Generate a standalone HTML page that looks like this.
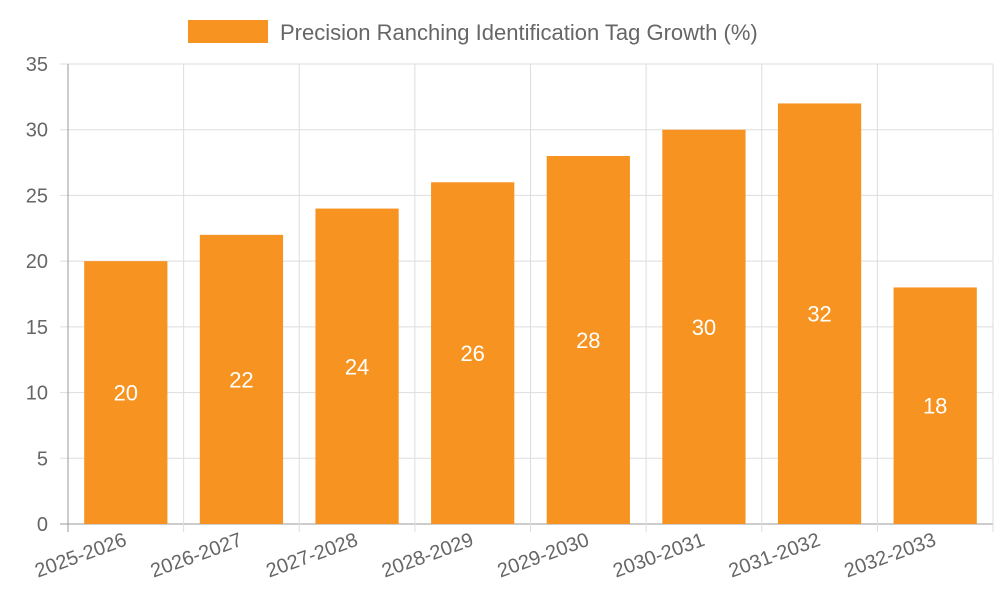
<!DOCTYPE html>
<html><head><meta charset="utf-8"><style>
body{margin:0;background:#fff;}
svg text{font-family:"Liberation Sans",sans-serif;}
</style></head><body>
<svg id="chart" width="1000" height="600">
<g id="legend">
<rect x="188" y="20" width="80" height="23" fill="#f79421"></rect>
<text x="280" y="40" font-size="22" fill="#666">Precision Ranching Identification Tag Growth (%)</text>
</g>
<g id="grid"></g><g id="bars"></g><g id="axes"></g>
</svg>
<script>
const categories=["2025-2026","2026-2027","2027-2028","2028-2029","2029-2030","2030-2031","2031-2032","2032-2033"];
const values=[20,22,24,26,28,30,32,18];
const yTicks=[0,5,10,15,20,25,30,35];
const NS="http://www.w3.org/2000/svg";
const L=68,R=993,T=64,B=524,yMax=35;
const y=v=>B-(v/yMax)*(B-T);
const bw=(R-L)/categories.length;
const x=i=>L+bw*i;
function mk(tag,attrs,parent){const e=document.createElementNS(NS,tag);for(const k in attrs)e.setAttribute(k,attrs[k]);document.getElementById(parent).appendChild(e);return e;}
yTicks.forEach(t=>{
 const g=mk("line",{x1:L-8,x2:R,y1:y(t),y2:y(t),stroke:t===0?"#999":"#ddd","stroke-width":1},"grid");
 
 
 const tx=mk("text",{x:48,y:y(t)+7,"font-size":20,fill:"#666","text-anchor":"end"},"axes");
 tx.textContent=t;
 
 
});
for(let i=0;i<=categories.length;i++){
 const g=mk("line",{x1:x(i),x2:x(i),y1:T,y2:B+8,stroke:i===0?"#999":"#ddd","stroke-width":1},"grid");
 
 
}
categories.forEach((c,i)=>{
 const w=bw*0.72, cx=x(i)+bw/2;
 const r=mk("rect",{x:cx-w/2,y:y(values[i]),width:w,height:B-y(values[i]),fill:"#f79421"},"bars");
 
 
 const vl=mk("text",{x:cx,y:(y(values[i])+B)/2+8,"font-size":22,fill:"#fff","text-anchor":"middle"},"bars");
 vl.textContent=values[i];
 
 
 const xl=mk("text",{x:cx+2,y:545,"font-size":20,fill:"#666","text-anchor":"end",transform:`rotate(-20 ${cx+2} 545)`},"axes");
 xl.textContent=c;
 
 
});
</script>
</body></html>
